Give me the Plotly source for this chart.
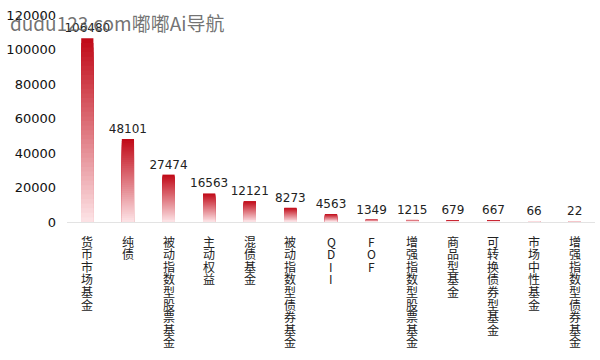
import plotly.graph_objects as go

categories = ["货币市场基金", "纯债", "被动指数型股票基金", "主动权益", "混债基金",
              "被动指数型债券基金", "QDII", "FOF", "增强指数型股票基金", "商品型基金",
              "可转换债券型基金", "市场中性基金", "增强指数型债券基金"]
values = [106480, 48101, 27474, 16563, 12121, 8273, 4563, 1349, 1215, 679, 667, 66, 22]
y_ticks = [0, 20000, 40000, 60000, 80000, 100000, 120000]

top_rgb = (192, 8, 22)
bot_rgb = (253, 228, 231)
N = 40

fig = go.Figure()
for k in range(N, 0, -1):
    f = k / N
    t = (k - 0.5) / N
    col = tuple(round(bot_rgb[i] + (top_rgb[i] - bot_rgb[i]) * t) for i in range(3))
    is_top = k == N
    fig.add_trace(go.Bar(
        x=categories, y=[v * f for v in values],
        marker=dict(color="rgb(%d,%d,%d)" % col, line=dict(width=0)),
        hoverinfo="skip", showlegend=False,
        text=[str(v) for v in values] if is_top else None,
        textposition="outside" if is_top else "none",
        constraintext="none",
        textfont=dict(family="DejaVu Sans", size=12, color="#222"),
        cliponaxis=False,
    ))

fig.update_layout(
    width=600, height=360,
    margin=dict(l=67, r=5, t=15, b=138, autoexpand=False),
    barmode="overlay", bargap=0.7,
    plot_bgcolor="white", paper_bgcolor="white",
    font=dict(family="Noto Sans CJK SC", size=13, color="#111"),
)
fig.update_xaxes(
    showticklabels=False, automargin=False,
    showline=True, linecolor="#e3e3e3", linewidth=1, ticks="",
    showgrid=False,
)
fig.update_yaxes(
    range=[0, 120000], tickvals=y_ticks, ticktext=[str(v) for v in y_ticks],
    showgrid=False, zeroline=False, showline=False, ticks="", automargin=False,
    tickfont=dict(family="DejaVu Sans", size=13, color="#111"), ticklabelstandoff=10,
)

# vertical category labels, one character per line
for c in categories:
    for i, ch in enumerate(c):
        fig.add_annotation(
            text=ch, xref="x", yref="paper", x=c, y=0,
            xanchor="center", yanchor="middle", showarrow=False,
            yshift=-(19 + i * 12.6),
            font=dict(family="Noto Sans CJK SC", size=12, color="#222"),
        )

fig.add_annotation(
    text="dudu123.com嘟嘟Ai导航", xref="paper", yref="paper",
    x=-67 / 528, y=1.0, xanchor="left", yanchor="middle",
    xshift=8, yshift=-7, showarrow=False,
    font=dict(family="Noto Sans CJK SC", size=19, color="rgba(90,90,90,0.85)"),
)

fig.write_html("out.html", config={"displayModeBar": False},
               post_script="document.body.style.margin='0';")
